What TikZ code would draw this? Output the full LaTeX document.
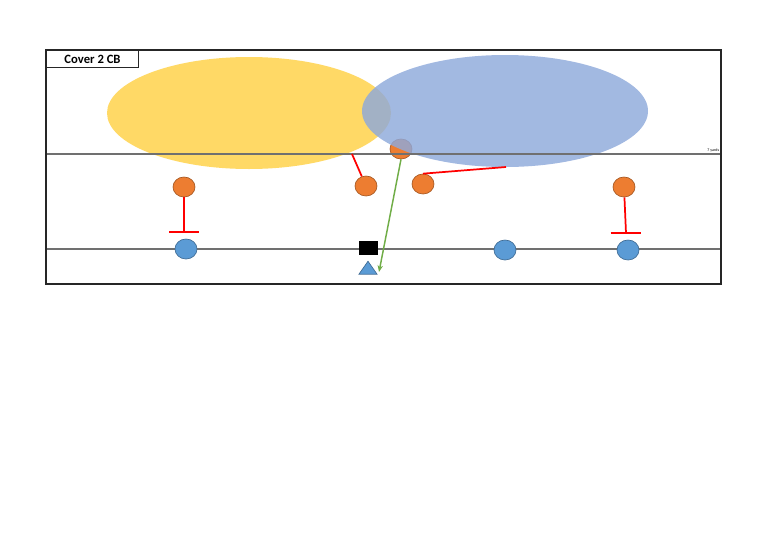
\documentclass[tikz,border=0pt]{standalone}
\usepackage{fontspec}
\setmainfont{Carlito}
\usetikzlibrary{shapes.geometric,arrows.meta}
\definecolor{zyellow}{HTML}{FFD966}
\definecolor{zblue}{HTML}{8EA9DB}
\definecolor{porange}{HTML}{ED7D31}
\definecolor{pblue}{HTML}{5B9BD5}
\definecolor{lgrey}{HTML}{707070}
\definecolor{rgreen}{HTML}{70AD47}
\newlength{\pxu}
\setlength{\pxu}{0.75pt}
\tikzset{
  zone/.style={ellipse, draw=none, inner sep=0pt},
  def/.style={ellipse, fill=porange, draw=porange!70!black, line width=0.5pt, minimum width=22\pxu, minimum height=20\pxu, inner sep=0pt},
  off/.style={ellipse, fill=pblue, draw=pblue!70!black, line width=0.5pt, minimum width=22\pxu, minimum height=20\pxu, inner sep=0pt},
  redline/.style={red, line width=1.3pt},
  field/.style={lgrey, line width=0.8pt},
}
\begin{document}
\begin{tikzpicture}[x=0.75pt,y=-0.75pt]
\useasboundingbox (0,0) rectangle (768,543);
% zones
\node[zone, fill=zyellow, minimum width=284\pxu, minimum height=112\pxu] (yz) at (249,113) {};
\node[def] (d3) at (401,149) {};
\node[zone, fill=zblue, fill opacity=0.82, minimum width=286\pxu, minimum height=112\pxu] (bz) at (505,111) {};
% field lines
\draw[field] (46,154) -- (721,154);
\draw[field] (46,249) -- (721,249);
\draw[black!85, line width=0.8pt] (46,50) rectangle (721,284);
\node[draw=black!85, line width=0.8pt, minimum width=92\pxu, minimum height=17\pxu, anchor=north west, inner sep=0pt, font=\bfseries\fontsize{9.5}{11}\selectfont] (title) at (46,50) {Cover 2 CB};
\node[font=\fontsize{3}{4}\selectfont, anchor=south east, inner sep=0.5pt] (yards) at (720,153) {7 yards};
% defenders
\node[def] (d1) at (184,187) {};
\node[def] (d2) at (366,186) {};
\node[def] (d4) at (423,184) {};
\node[def] (d5) at (624,187) {};
% offense
\node[off] (o1) at (186,249) {};
\node[off] (o2) at (505,250) {};
\node[off] (o3) at (628,250) {};
\node[fill=black, draw=black, minimum width=18\pxu, minimum height=13\pxu, inner sep=0pt] (c) at (368,247.5) {};
\node[isosceles triangle, shape border rotate=90, isosceles triangle apex angle=70, fill=pblue, draw=pblue!70!black, line width=0.5pt, minimum height=13\pxu, inner sep=0pt] (qb) at (368,269.5) {};
% routes
\coordinate (yzp) at (352,154);
\coordinate (bzp) at (506,167);
\coordinate (t1) at (184,232);
\coordinate (t2) at (626,233);
\coordinate (gend) at (379,272);
\draw[redline] (yzp) -- (d2);
\draw[redline] (bzp) -- (d4.north);
\draw[redline] (d1) -- (t1);
\draw[redline] ([xshift=-11]t1) -- ([xshift=11]t1);
\draw[redline] (d5) -- (t2);
\draw[redline] ([xshift=-11.5]t2) -- ([xshift=11.5]t2);
\draw[rgreen, line width=1.1pt, -{Stealth[length=5pt,width=4pt]}] (d3.south) -- (gend);
\end{tikzpicture}
\end{document}
